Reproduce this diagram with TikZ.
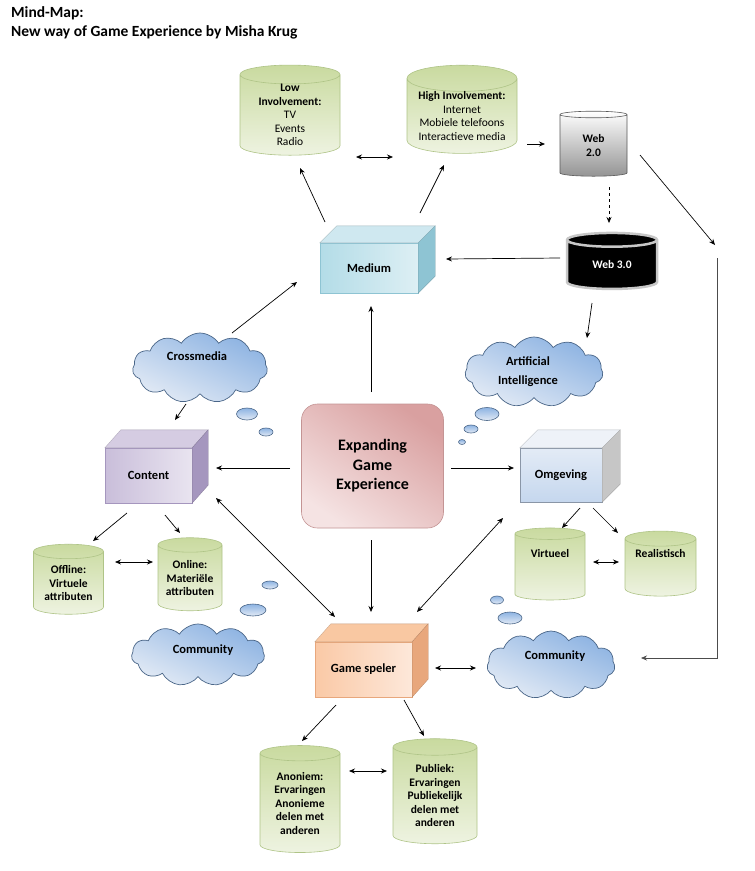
\documentclass[tikz,border=0pt]{standalone}
\usepackage{fontspec}
\setmainfont{Carlito}
\usetikzlibrary{shapes.geometric,shapes.symbols,arrows.meta,calc}
\definecolor{gT}{HTML}{C9DA9F}
\definecolor{gB}{HTML}{EEF3E1}
\definecolor{gE}{HTML}{AFC487}
\definecolor{cT}{HTML}{8DB3E2}
\definecolor{cB}{HTML}{E2EAF5}
\definecolor{cE}{HTML}{4A6688}
\definecolor{mF1}{HTML}{B3DCE7}
\definecolor{mF2}{HTML}{DDEFF4}
\definecolor{mT}{HTML}{CFE8F0}
\definecolor{mS}{HTML}{8EC4D3}
\definecolor{pF1}{HTML}{C9BEDA}
\definecolor{pF2}{HTML}{E9E4F0}
\definecolor{pT}{HTML}{D5CCE2}
\definecolor{pS}{HTML}{A596BE}
\definecolor{oF1}{HTML}{C5D7EE}
\definecolor{oF2}{HTML}{E3EBF6}
\definecolor{oT}{HTML}{EEF2F8}
\definecolor{oS}{HTML}{C6C6C6}
\definecolor{sF1}{HTML}{FAC9A6}
\definecolor{sF2}{HTML}{FDE8DA}
\definecolor{sT}{HTML}{F9C8A2}
\definecolor{sS}{HTML}{E8A77C}
\definecolor{eF1}{HTML}{D9A0A0}
\definecolor{eF2}{HTML}{F5E3E3}
\definecolor{eE}{HTML}{C49494}
\newcommand\mycube[5]{%
  \filldraw[fill=#4,draw=#4!80!black,line width=0.3pt] (#1.north west) -- ++(#2,#3) -- ($(#1.north east)+(#2,#3)$) -- (#1.north east) -- cycle;
  \filldraw[fill=#5,draw=#5!80!black,line width=0.3pt] (#1.north east) -- ++(#2,#3) -- ($(#1.south east)+(#2,#3)$) -- (#1.south east) -- cycle;}
\begin{document}
\begin{tikzpicture}[x=1pt,y=-1pt,
  every node/.style={inner sep=0pt, align=center},
  cyl/.style={shape=cylinder, shape border rotate=90, aspect=0.3, draw=gE, line width=0.6pt,
    top color=gT, bottom color=gB, font=\bfseries\fontsize{11.5}{13.5}\selectfont},
  cubefront/.style={rectangle, line width=0.3pt, font=\bfseries\fontsize{12.5}{15}\selectfont},
  cloudy/.style={cloud, cloud puffs=11, cloud puff arc=115, draw=cE, line width=0.7pt,
    top color=cT, bottom color=cB, shading angle=-25},
  bubble/.style={ellipse, draw=cE, line width=0.6pt, top color=cT, bottom color=cB},
  lbl/.style={font=\bfseries\fontsize{12.5}{19}\selectfont},
  arr/.style={-{Stealth[length=6pt,width=5pt]}, line width=0.7pt},
  darr/.style={{Stealth[length=6pt,width=5pt]}-{Stealth[length=6pt,width=5pt]}, line width=0.7pt}]
\useasboundingbox (0,0) rectangle (755,871);
\fill[white] (0,0) rectangle (755,871);

% title
\node[anchor=north west, align=left, font=\bfseries\fontsize{15.5}{19}\selectfont] (title) at (11,6)
  {Mind-Map:\\New way of Game Experience by Misha Krug};

% cylinders
\node[cyl, minimum width=100pt, minimum height=86pt] (low) at (290,115)
  {Low\\Involvement:\\\mdseries TV\\\mdseries Events\\\mdseries Radio};
\node[cyl, minimum width=110pt, minimum height=84pt] (high) at (462,116)
  {High Involvement:\\\mdseries Internet\\\mdseries Mobiele telefoons\\\mdseries Interactieve media};
\node[cyl, minimum width=67pt, minimum height=65pt, draw=black!65, top color=white, bottom color=black!42] (web2) at (593.5,145.5) {Web\\2.0};
\node[cyl, minimum width=90pt, minimum height=56pt, draw=black!22, line width=2.5pt, fill=black, top color=black, bottom color=black, text=white, aspect=0.35] (web3) at (612,265) {Web 3.0};
\node[cyl, minimum width=70pt, minimum height=70pt] (offline) at (68.5,583) {Offline:\\Virtuele\\attributen};
\node[cyl, minimum width=64pt, minimum height=73pt] (online) at (190,578) {Online:\\Materiële\\attributen};
\node[cyl, minimum width=70pt, minimum height=72pt] (virtueel) at (550,567) {Virtueel\\[1pt]~\\~};
\node[cyl, minimum width=71pt, minimum height=65pt] (realistisch) at (660.5,567.5) {Realistisch\\[1pt]~\\~};
\node[cyl, minimum width=80pt, minimum height=107pt] (anoniem) at (300,803) {Anoniem:\\Ervaringen\\Anonieme\\delen met\\anderen};
\node[cyl, minimum width=84pt, minimum height=105pt] (publiek) at (435,795.5) {Publiek:\\Ervaringen\\Publiekelijk\\delen met\\anderen};

% center
\node[rectangle, rounded corners=16pt, minimum width=142pt, minimum height=124pt, draw=eE, line width=0.6pt,
  top color=eF1, bottom color=eF2, shading angle=-35, font=\bfseries\fontsize{16}{19.5}\selectfont] (exp) at (372.5,466)
  {Expanding\\Game\\Experience};

% cubes
\node[cubefront, minimum width=98pt, minimum height=50pt, draw=mS, left color=mF1, right color=mF2] (medium) at (369,268) {Medium};
\mycube{medium}{17}{-17}{mT}{mS}
\node[cubefront, minimum width=87pt, minimum height=55pt, draw=pS, left color=pF1, right color=pF2] (content) at (148.5,475.5) {Content};
\mycube{content}{16}{-18}{pT}{pS}
\node[cubefront, minimum width=82pt, minimum height=54pt, draw=oF1!70!black, top color=oF2, bottom color=oF1] (omgeving) at (561,475) {Omgeving};
\mycube{omgeving}{18}{-18}{oT}{oS}
\node[cubefront, minimum width=97pt, minimum height=55pt, draw=sS, left color=sF1, right color=sF2] (game) at (363.5,669.5) {Game speler};
\mycube{game}{16}{-18}{sT}{sS}

% clouds
\node[cloudy, minimum width=135pt, minimum height=70pt] (cross) at (200,368) {};
\node[lbl] (crossT) at (197,356) {Crossmedia};
\node[cloudy, minimum width=138pt, minimum height=70pt] (ai) at (534,372) {};
\node[lbl] (aiT) at (528,372) {Artificial\\Intelligence};
\node[cloudy, minimum width=133pt, minimum height=62pt] (commL) at (198,655) {};
\node[lbl] (commLT) at (203,650) {Community};
\node[cloudy, minimum width=128pt, minimum height=68pt] (commR) at (551,665) {};
\node[lbl] (commRT) at (555,656) {Community};

% thought bubbles
\node[bubble, minimum width=21pt, minimum height=12pt] (cb1) at (247,414) {};
\node[bubble, minimum width=14pt, minimum height=8pt] (cb2) at (266,432) {};
\node[bubble, minimum width=24pt, minimum height=13pt] (ab1) at (487,414) {};
\node[bubble, minimum width=14pt, minimum height=8pt] (ab2) at (471,429) {};
\node[bubble, minimum width=7pt, minimum height=5pt] (ab3) at (462,442) {};
\node[bubble, minimum width=26pt, minimum height=12pt] (lb1) at (253,610) {};
\node[bubble, minimum width=16pt, minimum height=8pt] (lb2) at (270,585) {};
\node[bubble, minimum width=24pt, minimum height=12pt] (rb1) at (510,618) {};
\node[bubble, minimum width=13pt, minimum height=8pt] (rb2) at (497,600) {};

% right-side route
\coordinate (rtop) at (715,245);
\coordinate (rbot) at (717,658);

% connectors
\draw[darr] ([shift={(66,42)}]low.center) -- ([shift={(-69,41)}]high.center);
\draw[arr] ([shift={(65,28)}]high.center) -- ([shift={(-48.5,-1.5)}]web2.center);
\draw[arr, dashed] ([shift={(15.5,41.5)}]web2.center) -- ([shift={(-3,-42)}]web3.center);
\draw[arr] ([shift={(46.5,9.5)}]web2.center) -- (rtop);
\draw[arr, draw=black!70] ([shift={(2,13)}]rtop) -- (rbot) -- ([shift={(90,-7)}]commR.center);
\draw[arr] ([shift={(-52,-7)}]web3.center) -- ([shift={(77,-9)}]medium.center);
\draw[arr] ([shift={(-20,38)}]web3.center) -- ([shift={(53,-34)}]ai.center);
\draw[arr] ([shift={(51,-55)}]medium.center) -- ([shift={(-18,49)}]high.center);
\draw[arr] ([shift={(-44,-46)}]medium.center) -- ([shift={(10,53)}]low.center);
\draw[arr] ([shift={(-1.5,-74)}]exp.center) -- ([shift={(2,38)}]medium.center);
\draw[arr] ([shift={(32,-35)}]cross.center) -- ([shift={(-72,14)}]medium.center);
\draw[arr] ([shift={(-14,36)}]cross.center) -- ([shift={(26.5,-55.5)}]content.center);
\draw[arr] ([shift={(-82.5,2)}]exp.center) -- ([shift={(67.5,-7.5)}]content.center);
\draw[arr] ([shift={(78.5,2)}]exp.center) -- ([shift={(-47,-7)}]omgeving.center);
\draw[arr] ([shift={(-21.5,37.5)}]content.center) -- ([shift={(24.5,-42)}]offline.center);
\draw[arr] ([shift={(16.5,39.5)}]content.center) -- ([shift={(-10,-45)}]online.center);
\draw[darr] ([shift={(46.5,-21)}]offline.center) -- ([shift={(-37,-16)}]online.center);
\draw[darr] ([shift={(67.5,22.5)}]content.center) -- ([shift={(-28.5,-52.5)}]game.center);
\draw[arr] ([shift={(-1.5,74)}]exp.center) -- ([shift={(7.5,-57.5)}]game.center);
\draw[darr] ([shift={(-58,43)}]omgeving.center) -- ([shift={(53.5,-57.5)}]game.center);
\draw[arr] ([shift={(19,33)}]omgeving.center) -- ([shift={(12,-39)}]virtueel.center);
\draw[arr] ([shift={(32,33)}]omgeving.center) -- ([shift={(-42.5,-34.5)}]realistisch.center);
\draw[darr] ([shift={(43,-5)}]virtueel.center) -- ([shift={(-41.5,-5.5)}]realistisch.center);
\draw[darr] ([shift={(71.5,-1.5)}]game.center) -- ([shift={(-75,3)}]commR.center);
\draw[arr] ([shift={(-27.5,35.5)}]game.center) -- ([shift={(2,-62)}]anoniem.center);
\draw[arr] ([shift={(40.5,30.5)}]game.center) -- ([shift={(-11,-59.5)}]publiek.center);
\draw[darr] ([shift={(49,-32)}]anoniem.center) -- ([shift={(-48,-24.5)}]publiek.center);
\end{tikzpicture}
\end{document}
